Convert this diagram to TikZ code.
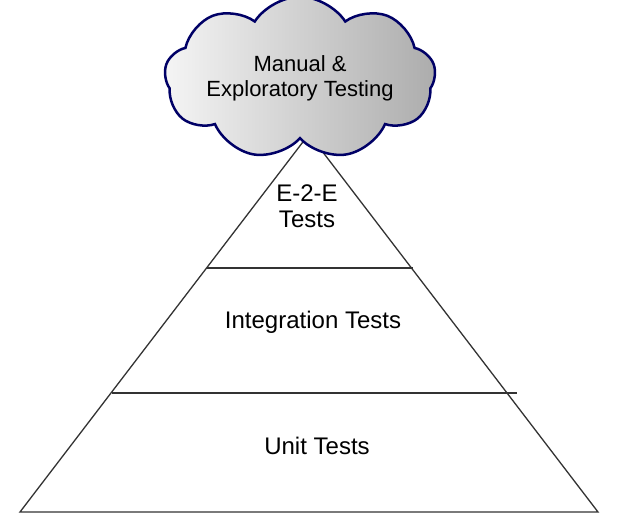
\documentclass[tikz,border=0pt]{standalone}
\usepackage{fontspec}
\setmainfont{Liberation Sans}
\usetikzlibrary{shapes.symbols}

\begin{document}
\begin{tikzpicture}[x=1pt,y=-1pt,
    layer/.style={font=\fontsize{24}{26}\selectfont, align=center}]

    \useasboundingbox (0,0) rectangle (620,522);

    % PYRAMID
    \coordinate (apex) at (309,134);
    \coordinate (baseL) at (20,512);
    \coordinate (baseR) at (598,512);
    \draw[line width=1.3pt, color=black!80] (baseL) -- (apex) -- (baseR) -- cycle;

    % LAYER LINES
    \draw[line width=1.3pt, color=black!80] (207,268) coordinate (topL) -- (413,268) coordinate (topR);
    \draw[line width=1.3pt, color=black!80] (112,393) coordinate (midL) -- (517,393) coordinate (midR);

    % LABELS
    \node[layer] (e2e) at (307,206) {E-2-E\\Tests};
    \node[layer] (integration) at (313,322) {Integration Tests};
    \node[layer] (unit) at (317,446) {Unit Tests};

    % CLOUD
    \node[cloud, cloud puffs=9, cloud puff arc=115, aspect=2.2,
          draw=blue!40!black, line width=2.5pt,
          left color=gray!8, right color=gray!65,
          minimum width=270pt, minimum height=142pt,
          font=\fontsize{22}{25}\selectfont, align=center,
          inner sep=0pt] (manual) at (300,78) {Manual \&\\Exploratory Testing};

\end{tikzpicture}
\end{document}
